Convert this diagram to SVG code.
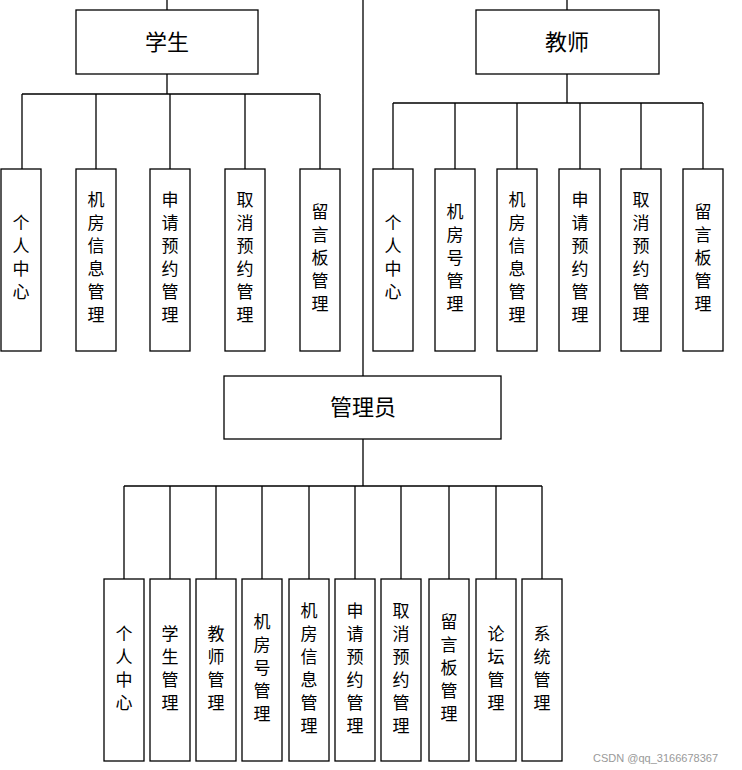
<svg xmlns="http://www.w3.org/2000/svg" width="742" height="770" viewBox="0 0 742 770">
<style>
.b{fill:#fff;stroke:#000;stroke-width:1.3}
.l{stroke:#000;stroke-width:1.3;fill:none}
.t{font-family:"Noto Sans CJK SC","Liberation Sans",sans-serif;fill:#000;text-anchor:middle}
.h{font-size:22px}
.v{font-size:17px}
</style>
<rect width="742" height="770" fill="#fff"/>
<g id="connectors">
<path class="l" d="M363 0V376 M167 0V10 M167 74V94 M22 94H320 M22 94V169 M96 94V169 M170 94V169 M245 94V169 M320 94V169
M567 0V10 M567 74V103 M393 103H703 M393 103V169 M455 103V169 M517 103V169 M580 103V169 M641 103V169 M703 103V169
M363 439V486 M124 486H542 M124 486V579 M170 486V579 M216 486V579 M262 486V579 M309 486V579 M355 486V579 M401 486V579 M449 486V579 M496 486V579 M542 486V579"/>
</g>
<g id="student"><rect class="b" x="76" y="10" width="182" height="64"/><text class="t h" x="167" y="50">学生</text></g>
<g id="teacher"><rect class="b" x="476" y="10" width="183" height="64"/><text class="t h" x="567" y="50">教师</text></g>
<g id="admin"><rect class="b" x="224" y="376" width="277" height="63"/><text class="t h" x="363" y="415">管理员</text></g>
<g id="s1"><rect class="b" x="1" y="169" width="40" height="182"/><text class="t v" x="21"><tspan x="21" y="229">个</tspan><tspan x="21" y="252">人</tspan><tspan x="21" y="275">中</tspan><tspan x="21" y="298">心</tspan></text></g>
<g id="s2"><rect class="b" x="76" y="169" width="40" height="182"/><text class="t v"><tspan x="96" y="206">机</tspan><tspan x="96" y="229">房</tspan><tspan x="96" y="252">信</tspan><tspan x="96" y="275">息</tspan><tspan x="96" y="298">管</tspan><tspan x="96" y="321">理</tspan></text></g>
<g id="s3"><rect class="b" x="150" y="169" width="40" height="182"/><text class="t v"><tspan x="170" y="206">申</tspan><tspan x="170" y="229">请</tspan><tspan x="170" y="252">预</tspan><tspan x="170" y="275">约</tspan><tspan x="170" y="298">管</tspan><tspan x="170" y="321">理</tspan></text></g>
<g id="s4"><rect class="b" x="225" y="169" width="40" height="182"/><text class="t v"><tspan x="245" y="206">取</tspan><tspan x="245" y="229">消</tspan><tspan x="245" y="252">预</tspan><tspan x="245" y="275">约</tspan><tspan x="245" y="298">管</tspan><tspan x="245" y="321">理</tspan></text></g>
<g id="s5"><rect class="b" x="300" y="169" width="40" height="182"/><text class="t v"><tspan x="320" y="218">留</tspan><tspan x="320" y="241">言</tspan><tspan x="320" y="264">板</tspan><tspan x="320" y="287">管</tspan><tspan x="320" y="310">理</tspan></text></g>
<g id="t1"><rect class="b" x="373" y="169" width="40" height="182"/><text class="t v"><tspan x="393" y="229">个</tspan><tspan x="393" y="252">人</tspan><tspan x="393" y="275">中</tspan><tspan x="393" y="298">心</tspan></text></g>
<g id="t2"><rect class="b" x="435" y="169" width="40" height="182"/><text class="t v"><tspan x="455" y="218">机</tspan><tspan x="455" y="241">房</tspan><tspan x="455" y="264">号</tspan><tspan x="455" y="287">管</tspan><tspan x="455" y="310">理</tspan></text></g>
<g id="t3"><rect class="b" x="497" y="169" width="40" height="182"/><text class="t v"><tspan x="517" y="206">机</tspan><tspan x="517" y="229">房</tspan><tspan x="517" y="252">信</tspan><tspan x="517" y="275">息</tspan><tspan x="517" y="298">管</tspan><tspan x="517" y="321">理</tspan></text></g>
<g id="t4"><rect class="b" x="559" y="169" width="41" height="182"/><text class="t v"><tspan x="580" y="206">申</tspan><tspan x="580" y="229">请</tspan><tspan x="580" y="252">预</tspan><tspan x="580" y="275">约</tspan><tspan x="580" y="298">管</tspan><tspan x="580" y="321">理</tspan></text></g>
<g id="t5"><rect class="b" x="621" y="169" width="40" height="182"/><text class="t v"><tspan x="641" y="206">取</tspan><tspan x="641" y="229">消</tspan><tspan x="641" y="252">预</tspan><tspan x="641" y="275">约</tspan><tspan x="641" y="298">管</tspan><tspan x="641" y="321">理</tspan></text></g>
<g id="t6"><rect class="b" x="683" y="169" width="40" height="182"/><text class="t v"><tspan x="703" y="218">留</tspan><tspan x="703" y="241">言</tspan><tspan x="703" y="264">板</tspan><tspan x="703" y="287">管</tspan><tspan x="703" y="310">理</tspan></text></g>
<g id="a1"><rect class="b" x="104" y="579" width="40" height="182"/><text class="t v"><tspan x="124" y="640">个</tspan><tspan x="124" y="663">人</tspan><tspan x="124" y="686">中</tspan><tspan x="124" y="709">心</tspan></text></g>
<g id="a2"><rect class="b" x="150" y="579" width="40" height="182"/><text class="t v"><tspan x="170" y="640">学</tspan><tspan x="170" y="663">生</tspan><tspan x="170" y="686">管</tspan><tspan x="170" y="709">理</tspan></text></g>
<g id="a3"><rect class="b" x="196" y="579" width="40" height="182"/><text class="t v"><tspan x="216" y="640">教</tspan><tspan x="216" y="663">师</tspan><tspan x="216" y="686">管</tspan><tspan x="216" y="709">理</tspan></text></g>
<g id="a4"><rect class="b" x="242" y="579" width="40" height="182"/><text class="t v"><tspan x="262" y="628">机</tspan><tspan x="262" y="651">房</tspan><tspan x="262" y="674">号</tspan><tspan x="262" y="697">管</tspan><tspan x="262" y="720">理</tspan></text></g>
<g id="a5"><rect class="b" x="289" y="579" width="40" height="182"/><text class="t v"><tspan x="309" y="617">机</tspan><tspan x="309" y="640">房</tspan><tspan x="309" y="663">信</tspan><tspan x="309" y="686">息</tspan><tspan x="309" y="709">管</tspan><tspan x="309" y="732">理</tspan></text></g>
<g id="a6"><rect class="b" x="335" y="579" width="40" height="182"/><text class="t v"><tspan x="355" y="617">申</tspan><tspan x="355" y="640">请</tspan><tspan x="355" y="663">预</tspan><tspan x="355" y="686">约</tspan><tspan x="355" y="709">管</tspan><tspan x="355" y="732">理</tspan></text></g>
<g id="a7"><rect class="b" x="381" y="579" width="40" height="182"/><text class="t v"><tspan x="401" y="617">取</tspan><tspan x="401" y="640">消</tspan><tspan x="401" y="663">预</tspan><tspan x="401" y="686">约</tspan><tspan x="401" y="709">管</tspan><tspan x="401" y="732">理</tspan></text></g>
<g id="a8"><rect class="b" x="429" y="579" width="40" height="182"/><text class="t v"><tspan x="449" y="628">留</tspan><tspan x="449" y="651">言</tspan><tspan x="449" y="674">板</tspan><tspan x="449" y="697">管</tspan><tspan x="449" y="720">理</tspan></text></g>
<g id="a9"><rect class="b" x="476" y="579" width="40" height="182"/><text class="t v"><tspan x="496" y="640">论</tspan><tspan x="496" y="663">坛</tspan><tspan x="496" y="686">管</tspan><tspan x="496" y="709">理</tspan></text></g>
<g id="a10"><rect class="b" x="522" y="579" width="40" height="182"/><text class="t v"><tspan x="542" y="640">系</tspan><tspan x="542" y="663">统</tspan><tspan x="542" y="686">管</tspan><tspan x="542" y="709">理</tspan></text></g>
<text x="718" y="762" font-family="'Liberation Sans',sans-serif" font-size="11" fill="#999" text-anchor="end">CSDN @qq_3166678367</text>
</svg>
